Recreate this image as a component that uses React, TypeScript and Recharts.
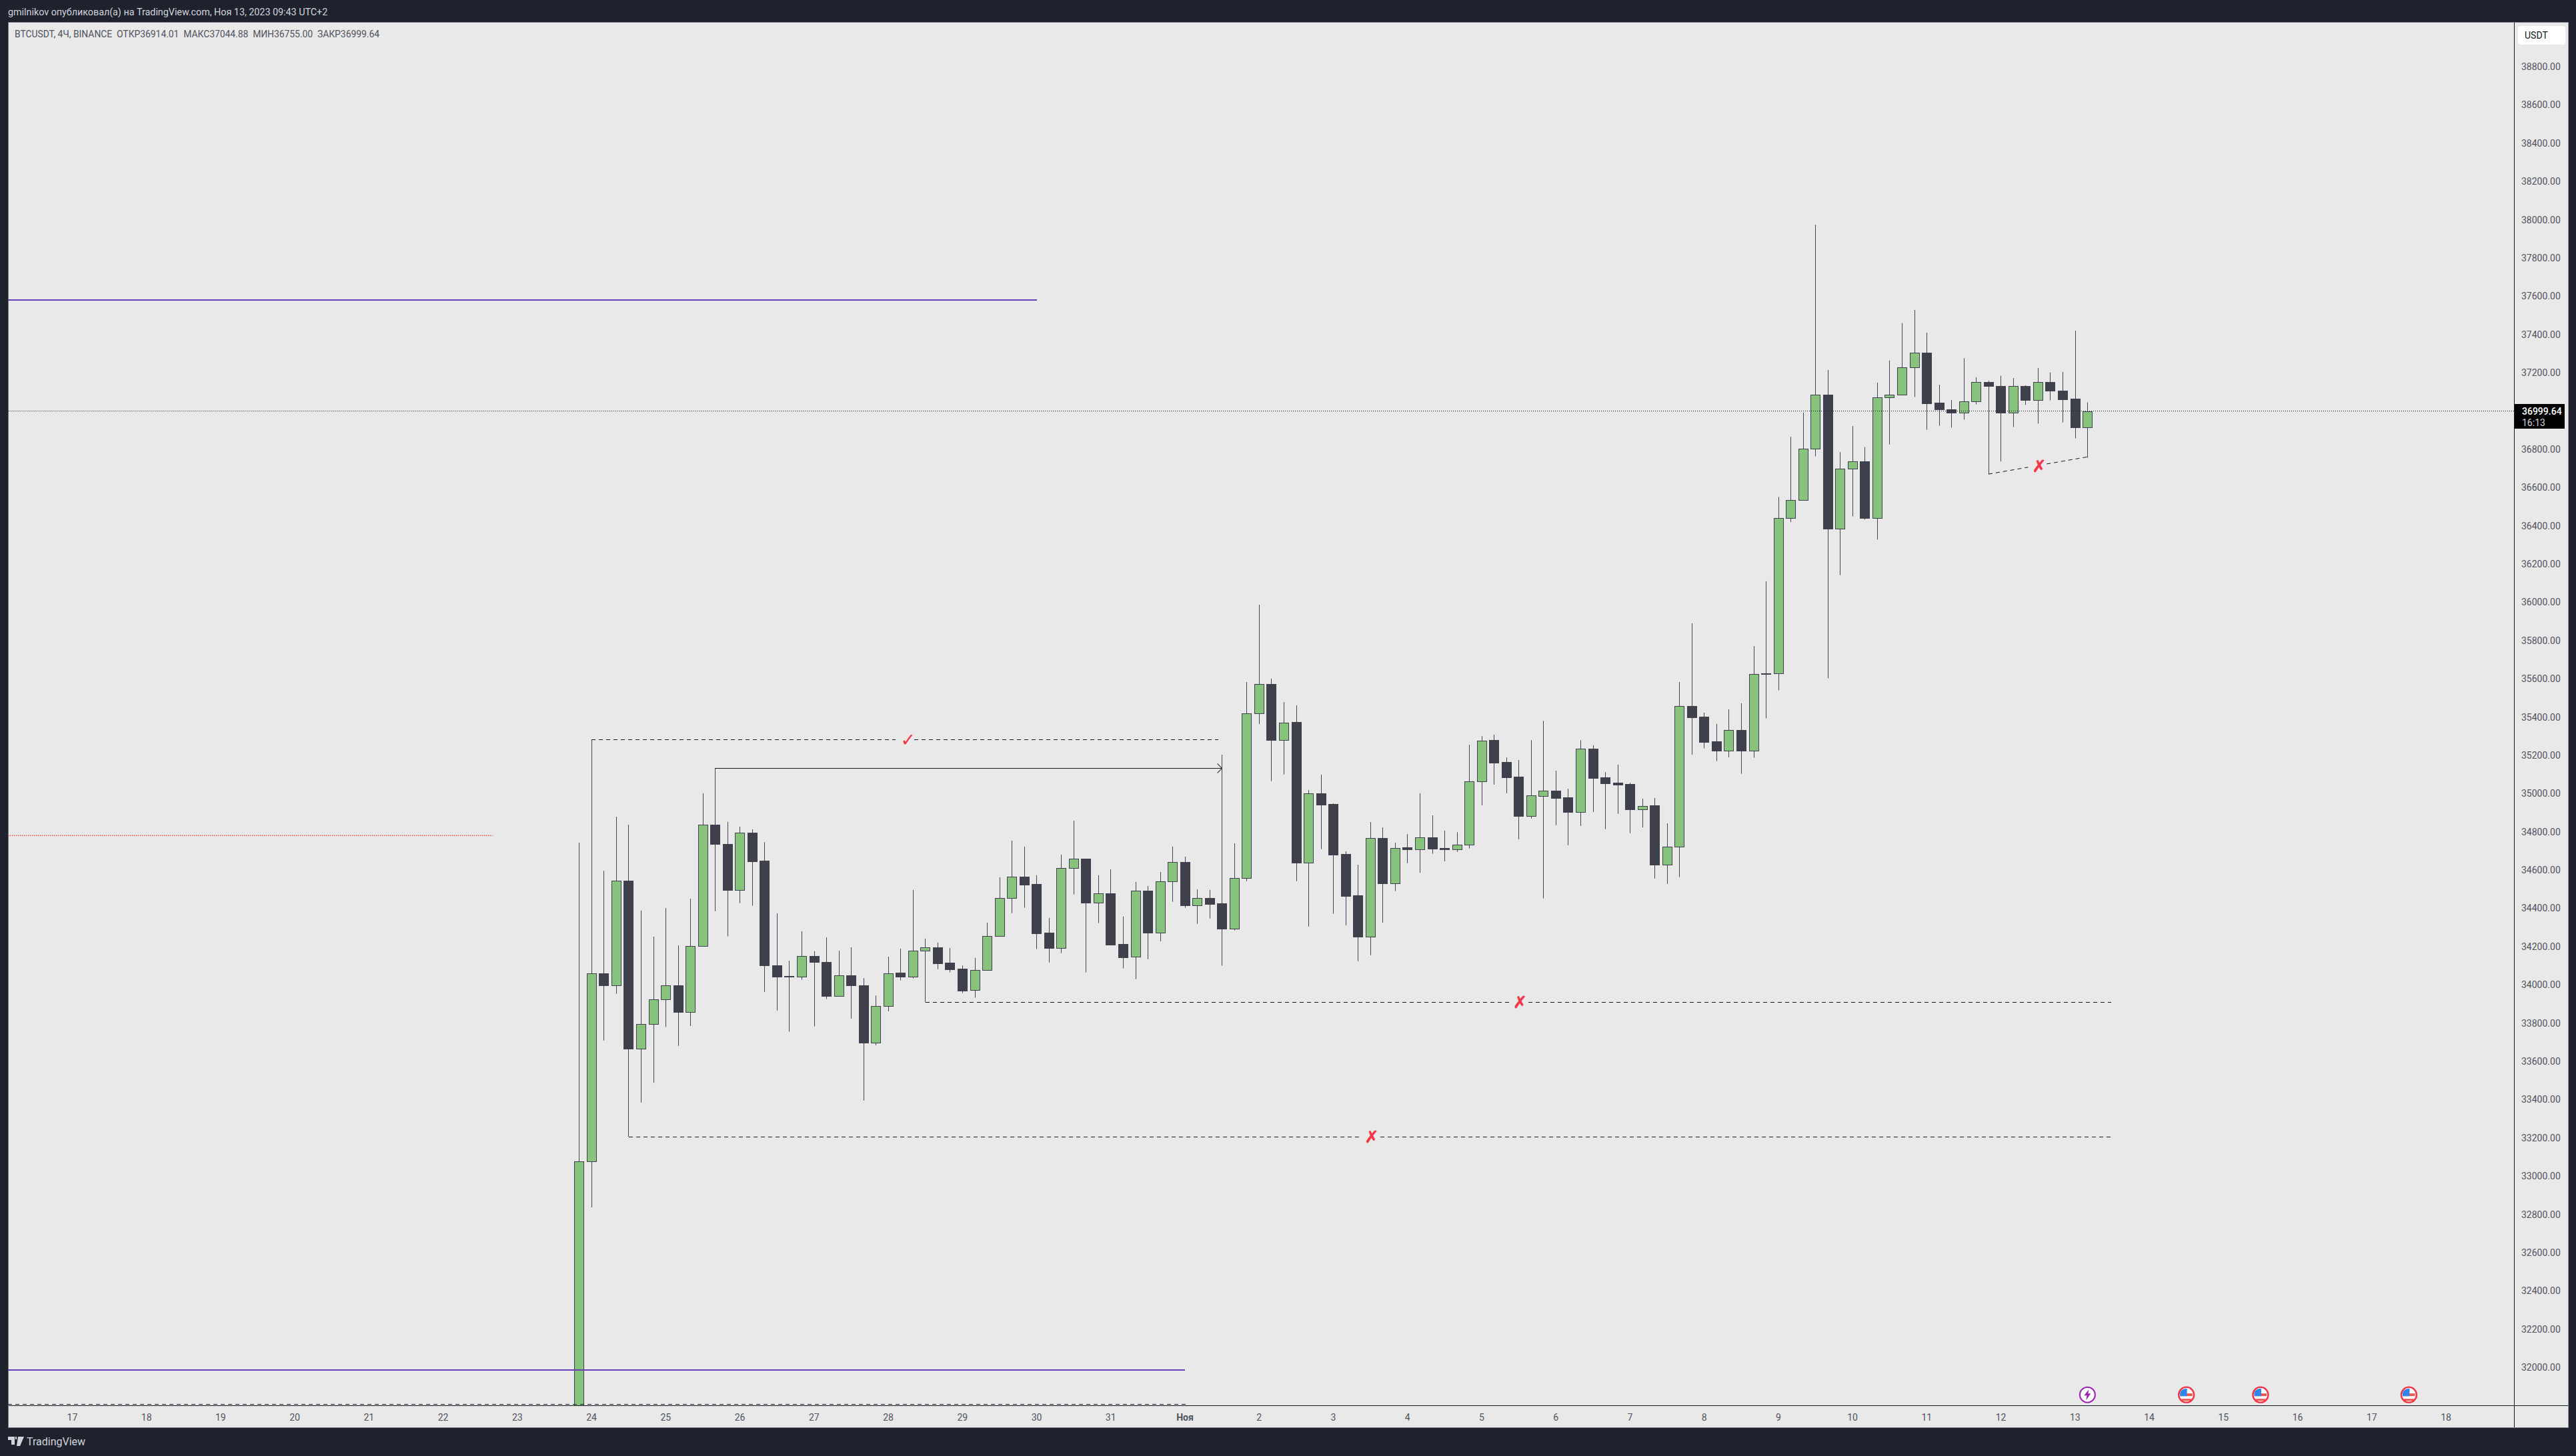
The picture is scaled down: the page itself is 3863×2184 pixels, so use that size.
import React from "react";
import { Bar, ComposedChart, ReferenceDot, ReferenceLine, XAxis, YAxis } from "recharts";

const WIDTH = 3863;
const HEIGHT = 2184;

const FONT = "Roboto, sans-serif";
const GREEN = "#87c37c";
const DARK = "#3e414c";
const WICK = "#434651";
const AXIS_LINE = "#131722";
const PAGE_BG = "#1e222d";
const PANE_BG = "#e9e9e9";
const TEXT = "#50535e";

const firstCandle = 41;

const opens = [
  31790, 33077, 34061, 33999, 34543, 33667, 33797, 33923, 33999, 33859, 34202, 34839, 34738, 34496, 34794,
  34648, 34103, 34046, 34044, 34152, 34118, 33943, 34048, 33999, 33699, 33891, 34063, 34044, 34178, 34195,
  34115, 34084, 33972, 34077, 34254, 34453, 34565, 34526, 34272, 34194, 34610, 34659, 34431, 34477, 34213,
  34146, 34491, 34274, 34540, 34641, 34417, 34453, 34425, 34292, 34558, 35421, 35571, 35281, 35374, 34640,
  35000, 34946, 34684, 34467, 34253, 34766, 34532, 34718, 34710, 34770, 34715, 34710, 34732, 35063, 35279,
  35165, 35089, 34884, 34988, 35015, 34980, 34905, 35234, 35085, 35056, 35050, 34918, 34938, 34630, 34721,
  35458, 35402, 35272, 35225, 35331, 35225, 35627, 35627, 36440, 36534, 36804, 37086, 36384, 36700, 36737,
  36440, 37070, 37084, 37227, 37304, 37044, 37008, 36990, 37052, 37150, 37129, 36990, 37129, 37056, 37153,
  37105, 37065, 36914.01,
];

const highs = [
  34743, 35282, 34596, 34879, 34837, 34388, 34252, 34401, 34206, 34450, 35001, 35132, 34852, 34827, 34813,
  34746, 34374, 34126, 34280, 34176, 34248, 34178, 34196, 34035, 33944, 34147, 34189, 34496, 34242, 34221,
  34193, 34101, 34141, 34325, 34562, 34754, 34723, 34573, 34350, 34681, 34858, 34659, 34573, 34604, 34357,
  34538, 34517, 34590, 34723, 34670, 34499, 34496, 35203, 34740, 35583, 35987, 35601, 35478, 35461, 35018,
  35099, 34948, 34698, 34628, 34851, 34823, 34743, 34788, 35001, 34886, 34806, 34798, 35255, 35300, 35308,
  35189, 35175, 35279, 35380, 35120, 35025, 35279, 35252, 35112, 35151, 35056, 34973, 34977, 34844, 35583,
  35890, 35423, 35364, 35440, 35472, 35771, 36110, 36551, 36865, 36992, 37974, 37214, 36785, 36921, 36811,
  37148, 37264, 37459, 37528, 37409, 37137, 37057, 37276, 37176, 37158, 37184, 37172, 37134, 37225, 37201,
  37204, 37420, 37044.88,
];

const lows = [
  31790, 32837, 33709, 33953, 33206, 33385, 33488, 33780, 33681, 33785, 34202, 34385, 34254, 34427, 34414,
  33963, 33866, 33755, 34027, 33783, 33926, 33939, 33824, 33395, 33684, 33862, 34023, 34034, 33909, 34082,
  34065, 33957, 33933, 34077, 34254, 34375, 34403, 34187, 34117, 34166, 34473, 34065, 34323, 34208, 34086,
  34030, 34134, 34228, 34434, 34403, 34319, 34347, 34100, 34285, 34542, 35363, 35065, 35100, 34542, 34305,
  34710, 34372, 34312, 34124, 34155, 34325, 34490, 34636, 34586, 34685, 34646, 34695, 34713, 34939, 35047,
  35002, 34761, 34869, 34452, 34835, 34730, 34831, 34904, 34814, 34894, 34793, 34823, 34556, 34528, 34563,
  35204, 35236, 35170, 35190, 35103, 35187, 35393, 35540, 36419, 36534, 36763, 35603, 36142, 36449, 36432,
  36328, 36825, 37084, 37073, 36902, 36923, 36913, 36955, 37035, 36670, 36736, 36916, 37032, 36934, 37056,
  36940, 36857, 36755,
];

const closes = [
  33077, 34061, 33999, 34543, 33667, 33797, 33923, 33999, 33859, 34202, 34839, 34738, 34496, 34794, 34647,
  34103, 34044, 34044, 34152, 34118, 33943, 34048, 33999, 33699, 33891, 34061, 34044, 34178, 34195, 34114,
  34082, 33971, 34077, 34254, 34453, 34565, 34525, 34271, 34194, 34610, 34659, 34431, 34477, 34211, 34145,
  34491, 34274, 34540, 34641, 34417, 34453, 34424, 34292, 34558, 35421, 35571, 35281, 35372, 34640, 35000,
  34943, 34681, 34466, 34253, 34766, 34532, 34717, 34710, 34770, 34713, 34710, 34732, 35063, 35278, 35162,
  35086, 34884, 34989, 35014, 34978, 34904, 35233, 35082, 35054, 35047, 34918, 34936, 34630, 34721, 35457,
  35400, 35271, 35225, 35331, 35225, 35624, 35624, 36440, 36534, 36804, 37084, 36384, 36700, 36736, 36440,
  37070, 37084, 37227, 37304, 37041, 37008, 36990, 37052, 37150, 37129, 36990, 37129, 37056, 37153, 37105,
  37062, 36913, 36999.64,
];

const candles = opens.map((open, n) => ({
  t: firstCandle + n,
  open,
  high: highs[n],
  low: lows[n],
  close: closes[n],
}));

// 6 candles per day, index 0 is Oct 17
const dayLabels = [
  "17", "18", "19", "20", "21", "22", "23", "24", "25", "26", "27", "28", "29", "30", "31", "Ноя", "2", "3", "4",
  "5", "6", "7", "8", "9", "10", "11", "12", "13", "14", "15", "16", "17", "18",
];
const dayTicks = dayLabels.map((_, n) => n * 6);
const priceTicks = [
  32000, 32200, 32400, 32600, 32800, 33000, 33200, 33400, 33600, 33800, 34000, 34200, 34400, 34600, 34800, 35000,
  35200, 35400, 35600, 35800, 36000, 36200, 36400, 36600, 36800, 37000, 37200, 37400, 37600, 37800, 38000, 38200,
  38400, 38600, 38800,
];

const tMin = -5.2;
const tMax = 197.5;
const priceMin = 31801.8;
const priceMax = 39033.5;
const lastPrice = 36999.64;

type Seg = [number, number, number, number];

const purpleLines: Seg[] = [
  [tMin, 37581, 78.05, 37581],
  [tMin, 31987, 90, 31987],
];
const pinkLines: Seg[] = [[tMin, 34780, 34, 34780]];
const dashedLines: Seg[] = [
  [tMin, 31807, 90.1, 31807],
  [42, 35282, 66.6, 35282],
  [68.1, 35282, 92.7, 35282],
  [69, 33909, 116.3, 33909],
  [117.8, 33909, 164.9, 33909],
  [45, 33206, 104.3, 33206],
  [105.8, 33206, 165, 33206],
  [155, 36670, 158.2, 36706],
  [159.7, 36723, 163, 36760],
];
const solidLines: Seg[] = [[52, 35132, 93, 35132]];
const checkMarks = [[67.6, 35282]];
const crossMarks = [
  [117.1, 33909],
  [105.1, 33206],
  [159.1, 36711],
];
const arrowHeads = [[93, 35132]];
const eventBolt = [163];
const eventFlags = [171, 177, 189];
const eventPrice = 31857;

const Candle = (props: any) => {
  const { x, y, width, height, payload } = props;
  const perUnit = height / (payload.high - payload.low);
  const toY = (v: number) => y + (payload.high - v) * perUnit;
  const cx = Math.floor(x + width / 2) + 0.5;
  const up = payload.close >= payload.open;
  const top = Math.round(toY(Math.max(payload.open, payload.close)));
  const bottom = Math.round(toY(Math.min(payload.open, payload.close)));
  return (
    <g>
      <line x1={cx} x2={cx} y1={y} y2={y + height} stroke={WICK} strokeWidth={1} />
      <rect
        x={cx - 7}
        y={top + 0.5}
        width={14}
        height={Math.max(bottom - top, 1)}
        fill={up ? GREEN : DARK}
        stroke={DARK}
        strokeWidth={1}
        shapeRendering="crispEdges"
      />
    </g>
  );
};

const DayTick = (props: any) => {
  const { x, y, payload } = props;
  const n = dayTicks.indexOf(payload.value);
  const label = dayLabels[n];
  return (
    <text
      x={x}
      y={y}
      dy="0.71em"
      textAnchor="middle"
      fontFamily={FONT}
      fontSize={14}
      fontWeight={label === "Ноя" ? 700 : 400}
      fill={TEXT}
    >
      {label}
    </text>
  );
};

const Mark = ({ cx, cy, glyph, size, thick }: any) => (
  <text
    x={cx}
    y={cy}
    dy="0.36em"
    textAnchor="middle"
    fontFamily="DejaVu Sans"
    fontSize={size}
    fill="#f23645"
    stroke="#f23645"
    strokeWidth={thick}
  >
    {glyph}
  </text>
);

const Arrow = ({ cx, cy }: any) => (
  <path d={`M${cx - 7} ${cy - 7}L${cx} ${cy}L${cx - 7} ${cy + 7}`} fill="none" stroke={WICK} strokeWidth={1.2} />
);

const BoltIcon = ({ cx, cy }: any) => (
  <g>
    <circle cx={cx} cy={cy} r={11.5} fill="#ffffff" stroke="#9c27b0" strokeWidth={2} />
    <path
      d={`M${cx + 2} ${cy - 8}L${cx - 5} ${cy + 1}H${cx - 1}L${cx - 2} ${cy + 8}L${cx + 5} ${cy - 2}H${cx + 1}Z`}
      fill="#9c27b0"
    />
  </g>
);

const FlagIcon = ({ cx, cy }: any) => (
  <g>
    <circle cx={cx} cy={cy} r={11.5} fill="#ffffff" stroke="#f23645" strokeWidth={2.4} />
    <rect x={cx - 9} y={cy - 2} width={18} height={4} fill="#f05350" />
    <path d={`M${cx - 8} ${cy + 6}H${cx + 8}L${cx + 6} ${cy + 9}H${cx - 6}Z`} fill="#f05350" />
    <path d={`M${cx - 9.5} ${cy + 2}V${cy - 3}Q${cx - 8} ${cy - 9} ${cx + 1} ${cy - 9.5}V${cy + 2}Z`} fill="#2f86e6" />
  </g>
);

const overlayText: React.CSSProperties = {
  position: "absolute",
  fontFamily: FONT,
  whiteSpace: "pre",
  lineHeight: 1,
};

const crisp = (s: Seg) => (s[1] === s[3] ? "crispEdges" : "auto");

const App = () => {
  return (
    <div style={{ position: "absolute", left: 0, top: 0, width: WIDTH, height: HEIGHT, background: PAGE_BG, overflow: "hidden" }}>
      <div style={{ position: "absolute", left: 12, top: 33, width: 3838, height: 2107, background: PANE_BG, border: "1px solid #787b86", borderRightColor: "#9598a1", boxSizing: "content-box" }} />
      <div style={{ ...overlayText, left: 12, top: 11, fontSize: 14.3, color: "#d1d4dc" }}>
        gmilnikov опубликовал(а) на TradingView.com, Ноя 13, 2023 09:43 UTC+2
      </div>
      <div style={{ ...overlayText, left: 22, top: 45, fontSize: 13.85, color: TEXT }}>
        BTCUSDT, 4Ч, BINANCE  ОТКР36914.01  МАКС37044.88  МИН36755.00  ЗАКР36999.64
      </div>

      <div style={{ position: "absolute", left: 0, top: 0 }}>
        <ComposedChart
          width={WIDTH}
          height={HEIGHT}
          data={candles}
          margin={{ left: 12, top: 33, right: 12, bottom: 43 }}
        >
          <XAxis
            dataKey="t"
            type="number"
            domain={[tMin, tMax]}
            ticks={dayTicks}
            interval={0}
            allowDataOverflow
            allowDecimals
            height={33}
            tickLine={false}
            axisLine={false}
            tickMargin={7}
            tick={DayTick}
          />
          <YAxis
            orientation="right"
            type="number"
            domain={[priceMin, priceMax]}
            ticks={priceTicks}
            interval={0}
            allowDataOverflow
            width={81}
            tickLine={false}
            tickSize={0}
            axisLine={false}
            tickMargin={11}
            tickFormatter={(v: number) => v.toFixed(2)}
            tick={{ fontFamily: FONT, fontSize: 14, fill: TEXT }}
          />
          <Bar
            dataKey={(d: any) => [d.low, d.high]}
            barSize={15}
            isAnimationActive={false}
            shape={Candle}
          />
          {purpleLines.map((s, n) => (
            <ReferenceLine key={`p${n}`} ifOverflow="visible" segment={[{ x: s[0], y: s[1] }, { x: s[2], y: s[3] }]} stroke="#6a3dbb" strokeWidth={2} shapeRendering="crispEdges" />
          ))}
          {pinkLines.map((s, n) => (
            <ReferenceLine key={`k${n}`} ifOverflow="visible" segment={[{ x: s[0], y: s[1] }, { x: s[2], y: s[3] }]} stroke="#f23c2f" strokeWidth={1.2} strokeDasharray="1.5 1.5" />
          ))}
          {dashedLines.map((s, n) => (
            <ReferenceLine key={`d${n}`} ifOverflow="visible" segment={[{ x: s[0], y: s[1] }, { x: s[2], y: s[3] }]} stroke="#131722" strokeWidth={1} strokeDasharray="6 5" shapeRendering={crisp(s)} />
          ))}
          {solidLines.map((s, n) => (
            <ReferenceLine key={`s${n}`} ifOverflow="visible" segment={[{ x: s[0], y: s[1] }, { x: s[2], y: s[3] }]} stroke="#131722" strokeWidth={1} shapeRendering="crispEdges" />
          ))}
          <ReferenceLine y={lastPrice} stroke="#131722" strokeWidth={1} strokeDasharray="1 2" shapeRendering="crispEdges" />
          {arrowHeads.map((a, n) => (
            <ReferenceDot key={`a${n}`} x={a[0]} y={a[1]} ifOverflow="visible" shape={Arrow} />
          ))}
          {checkMarks.map((m, n) => (
            <ReferenceDot key={`c${n}`} x={m[0]} y={m[1]} ifOverflow="visible" shape={(p: any) => <Mark {...p} glyph="✓" size={27} thick={0} />} />
          ))}
          {crossMarks.map((m, n) => (
            <ReferenceDot key={`x${n}`} x={m[0]} y={m[1]} ifOverflow="visible" shape={(p: any) => <Mark {...p} glyph="✗" size={25} thick={0.6} />} />
          ))}
          {eventBolt.map((t) => (
            <ReferenceDot key={`b${t}`} x={t} y={eventPrice} ifOverflow="visible" shape={BoltIcon} />
          ))}
          {eventFlags.map((t) => (
            <ReferenceDot key={`f${t}`} x={t} y={eventPrice} ifOverflow="visible" shape={FlagIcon} />
          ))}
        </ComposedChart>
      </div>

      {/* axis frame lines */}
      <div style={{ position: "absolute", left: 3770, top: 34, width: 1, height: 2107, background: AXIS_LINE }} />
      <div style={{ position: "absolute", left: 13, top: 2108, width: 3838, height: 1, background: AXIS_LINE }} />

      {/* price scale badges */}
      <div style={{ ...overlayText, left: 3776, top: 39, width: 61, height: 28, paddingLeft: 10, lineHeight: "28px", background: "#ffffff", borderRadius: 4, fontSize: 14, color: "#131722" }}>
        USDT
      </div>
      <div style={{ position: "absolute", left: 3771, top: 606, width: 75, height: 37, background: "#000000" }} />
      <div style={{ ...overlayText, left: 3782, top: 610, fontSize: 14, fontWeight: 500, color: "#ffffff" }}>{lastPrice.toFixed(2)}</div>
      <div style={{ ...overlayText, left: 3782, top: 627, fontSize: 14, color: "#d1d4dc" }}>16:13</div>

      {/* footer logo */}
      <svg style={{ position: "absolute", left: 12, top: 2155 }} width={24} height={15} viewBox="0 0 24 15">
        <path d="M0 0H10V12H5V5H0Z M11 0H13V4H11Z M15 0H24L18 14H13Z" fill="#d1d4dc" />
      </svg>
      <div style={{ ...overlayText, left: 40, top: 2155, fontSize: 16, color: "#d1d4dc" }}>TradingView</div>
    </div>
  );
};

export default App;
